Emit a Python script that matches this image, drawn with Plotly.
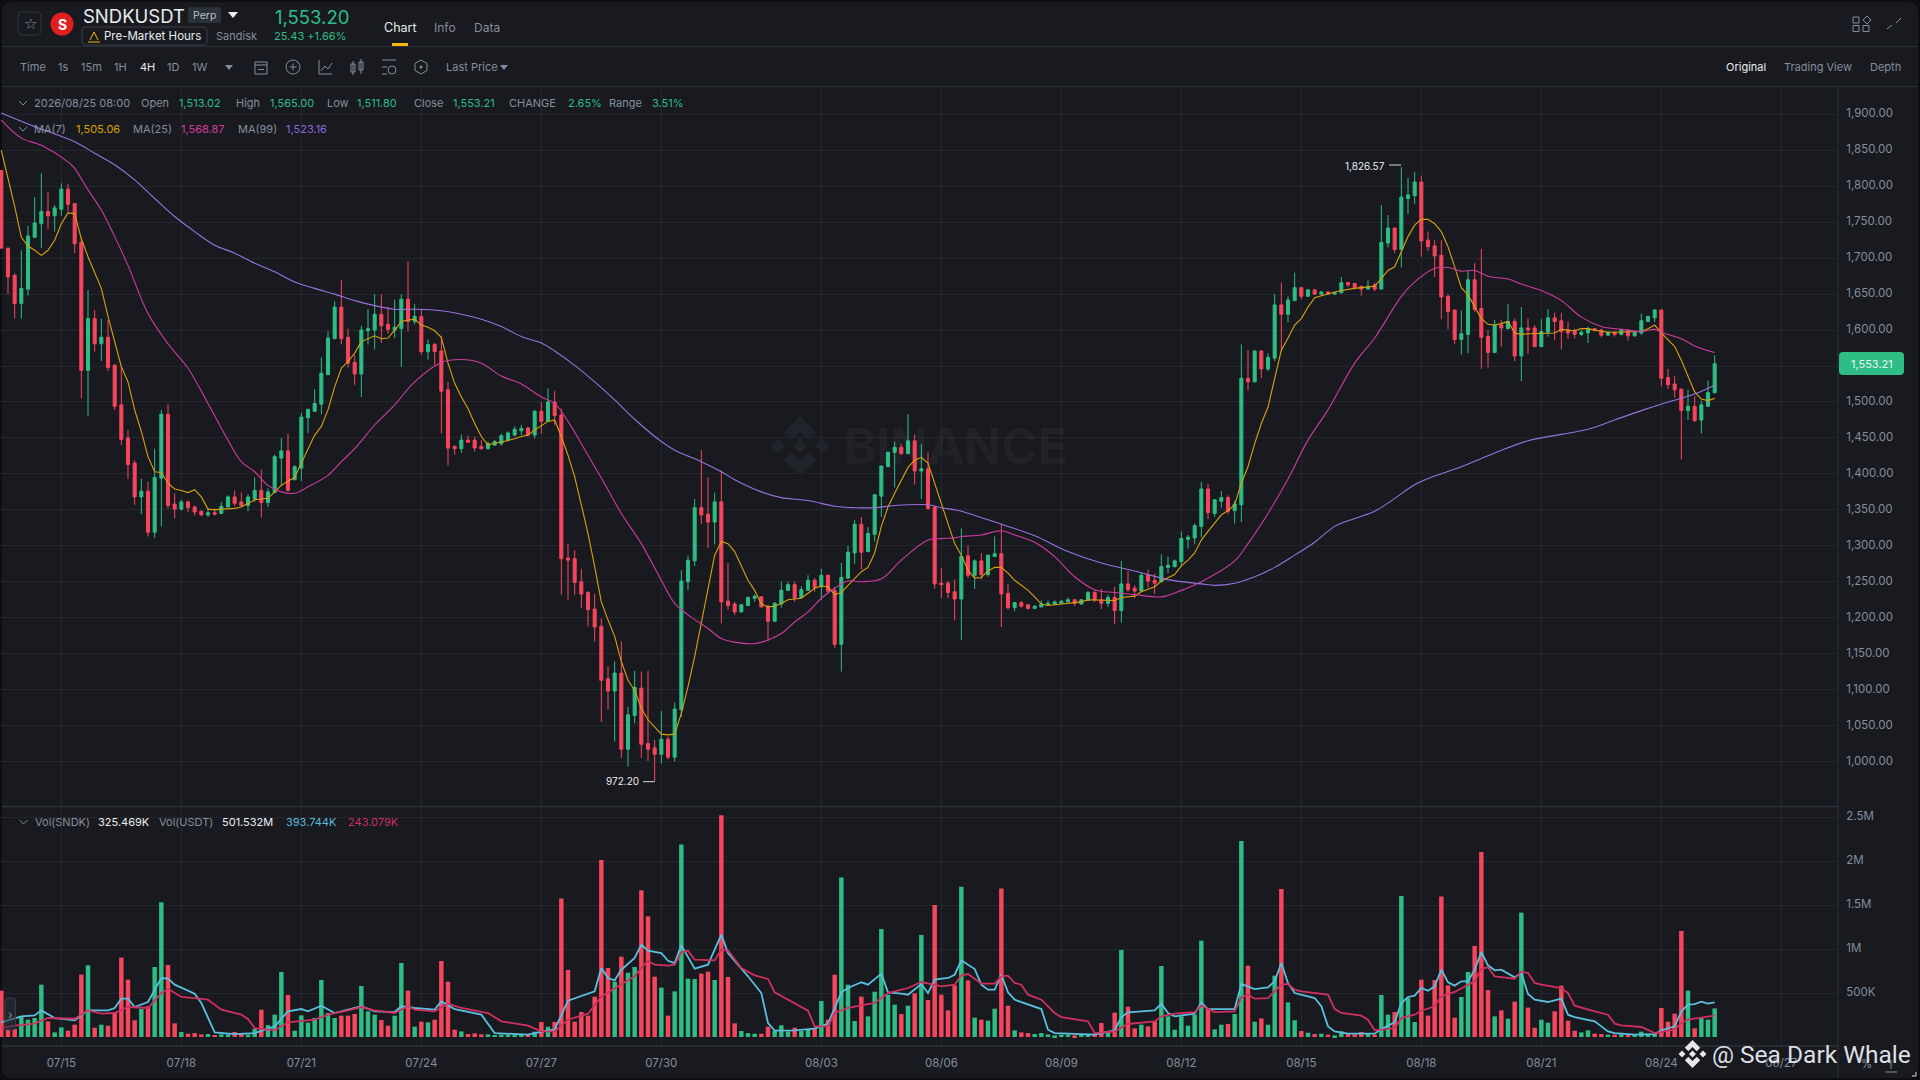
import pandas as pd
import plotly.graph_objects as go
from plotly.subplots import make_subplots

W, H = 1920, 1080
UP = "#2EBD85"
DOWN = "#F6465D"
MUTED = "#848E9C"
BRIGHT = "#EAECEF"
GRID = "#23262D"
EDGE = "#2B3139"
FONT = "Inter"

# 4h candles
dates = pd.date_range("2026-07-13 12:00", periods=258, freq="4h")

opens = [
    1822, 1714, 1676, 1637, 1657, 1729, 1748, 1765, 1759, 1768,
    1796, 1776, 1722, 1544, 1616, 1581, 1590, 1551, 1496, 1450,
    1415, 1368, 1376, 1319, 1394, 1483, 1358, 1351, 1361, 1354,
    1348, 1343, 1346, 1345, 1354, 1368, 1361, 1356, 1365, 1377,
    1360, 1374, 1422, 1432, 1392, 1408, 1478, 1487, 1497, 1538,
    1588, 1632, 1590, 1555, 1539, 1599, 1600, 1622, 1608, 1600,
    1602, 1643, 1612, 1619, 1570, 1580, 1571, 1517, 1438, 1435,
    1447, 1447, 1438, 1435, 1440, 1442, 1447, 1454, 1460, 1464,
    1454, 1487, 1473, 1500, 1482, 1283, 1282, 1250, 1235, 1212,
    1188, 1115, 1098, 1123, 1017, 1064, 1102, 1025, 1019, 1010,
    1031, 1006, 1072, 1250, 1279, 1353, 1344, 1333, 1361, 1223,
    1219, 1208, 1217, 1227, 1229, 1216, 1195, 1219, 1238, 1246,
    1228, 1238, 1252, 1243, 1259, 1238, 1163, 1255, 1290, 1330,
    1292, 1316, 1369, 1410, 1430, 1437, 1428, 1446, 1404, 1407,
    1354, 1248, 1248, 1236, 1226, 1286, 1259, 1279, 1260, 1285,
    1289, 1234, 1214, 1221, 1218, 1213, 1215, 1218, 1219, 1220,
    1222, 1225, 1219, 1224, 1235, 1225, 1220, 1228, 1210, 1247,
    1241, 1237, 1259, 1252, 1250, 1270, 1271, 1278, 1309, 1311,
    1327, 1379, 1345, 1362, 1367, 1349, 1357, 1533, 1528, 1571,
    1546, 1561, 1635, 1622, 1641, 1659, 1647, 1656, 1650, 1653,
    1650, 1652, 1666, 1665, 1661, 1657, 1663, 1657, 1721, 1742,
    1712, 1783, 1787, 1806, 1725, 1717, 1704, 1647, 1628, 1587,
    1594, 1670, 1630, 1591, 1569, 1607, 1602, 1612, 1564, 1603,
    1603, 1577, 1597, 1617, 1613, 1600, 1599, 1594, 1596, 1602,
    1600, 1593, 1597, 1594, 1600, 1592, 1596, 1612, 1617, 1628,
    1534, 1525, 1518, 1488, 1494, 1475, 1494, 1513.02,
]
highs = [
    1822, 1714, 1679, 1711, 1745, 1785, 1818, 1792, 1774, 1804,
    1803, 1776, 1730, 1656, 1628, 1616, 1614, 1553, 1549, 1461,
    1419, 1393, 1389, 1435, 1489, 1497, 1373, 1364, 1363, 1356,
    1349, 1352, 1352, 1361, 1370, 1377, 1374, 1372, 1395, 1406,
    1380, 1427, 1450, 1456, 1412, 1485, 1490, 1518, 1562, 1598,
    1640, 1670, 1602, 1565, 1606, 1629, 1650, 1650, 1632, 1642,
    1650, 1695, 1636, 1628, 1587, 1582, 1591, 1528, 1440, 1455,
    1453, 1452, 1447, 1445, 1447, 1456, 1459, 1466, 1468, 1465,
    1489, 1500, 1519, 1515, 1491, 1303, 1294, 1268, 1237, 1233,
    1199, 1132, 1139, 1167, 1076, 1126, 1125, 1126, 1030, 1070,
    1035, 1082, 1266, 1286, 1365, 1433, 1395, 1374, 1405, 1276,
    1222, 1219, 1230, 1232, 1230, 1218, 1222, 1250, 1250, 1250,
    1244, 1259, 1255, 1268, 1260, 1243, 1276, 1300, 1336, 1340,
    1326, 1372, 1411, 1431, 1445, 1442, 1483, 1455, 1442, 1430,
    1355, 1269, 1251, 1253, 1324, 1300, 1281, 1290, 1288, 1313,
    1330, 1247, 1222, 1223, 1218, 1217, 1224, 1224, 1224, 1224,
    1228, 1226, 1226, 1237, 1238, 1240, 1232, 1243, 1279, 1265,
    1245, 1262, 1267, 1261, 1288, 1285, 1281, 1320, 1315, 1331,
    1389, 1386, 1365, 1376, 1370, 1363, 1580, 1572, 1572, 1572,
    1568, 1650, 1666, 1647, 1680, 1660, 1657, 1656, 1654, 1654,
    1653, 1674, 1667, 1665, 1661, 1669, 1666, 1774, 1760, 1742,
    1826.57, 1812, 1820, 1815, 1737, 1725, 1725, 1650, 1628, 1627,
    1683, 1693, 1713, 1600, 1614, 1614, 1636, 1616, 1632, 1616,
    1607, 1615, 1629, 1624, 1624, 1612, 1602, 1600, 1605, 1603,
    1602, 1598, 1598, 1602, 1601, 1599, 1623, 1620, 1629, 1629,
    1546, 1536, 1518, 1517, 1508, 1502, 1530, 1565,
]
lows = [
    1714, 1650, 1616, 1616, 1648, 1729, 1714, 1740, 1737, 1759,
    1765, 1707, 1505, 1481, 1570, 1557, 1543, 1489, 1440, 1393,
    1357, 1344, 1313, 1311, 1327, 1352, 1338, 1349, 1347, 1342,
    1341, 1340, 1342, 1344, 1354, 1355, 1354, 1348, 1361, 1339,
    1354, 1373, 1383, 1376, 1391, 1390, 1457, 1487, 1483, 1538,
    1588, 1580, 1548, 1524, 1507, 1580, 1573, 1582, 1595, 1589,
    1549, 1598, 1608, 1565, 1559, 1551, 1456, 1412, 1427, 1429,
    1443, 1431, 1434, 1434, 1439, 1439, 1445, 1452, 1454, 1452,
    1449, 1456, 1473, 1468, 1232, 1224, 1232, 1214, 1188, 1167,
    1055, 1072, 1028, 1005, 993, 1053, 1005, 1001, 972.2, 997,
    1003, 1000, 1062, 1238, 1272, 1330, 1297, 1302, 1192, 1211,
    1204, 1208, 1217, 1222, 1214, 1168, 1195, 1214, 1237, 1222,
    1228, 1238, 1236, 1225, 1234, 1158, 1125, 1255, 1275, 1267,
    1291, 1306, 1340, 1410, 1381, 1427, 1428, 1385, 1365, 1350,
    1240, 1227, 1227, 1196, 1169, 1255, 1240, 1253, 1257, 1285,
    1187, 1211, 1209, 1214, 1211, 1212, 1215, 1217, 1218, 1220,
    1221, 1216, 1218, 1224, 1222, 1212, 1215, 1191, 1193, 1236,
    1227, 1237, 1242, 1233, 1249, 1262, 1270, 1271, 1296, 1302,
    1312, 1337, 1340, 1353, 1344, 1331, 1333, 1516, 1528, 1533,
    1543, 1557, 1570, 1611, 1641, 1643, 1646, 1649, 1649, 1649,
    1650, 1651, 1660, 1657, 1648, 1657, 1654, 1657, 1715, 1707,
    1687, 1761, 1775, 1702, 1710, 1674, 1615, 1601, 1581, 1566,
    1568, 1625, 1546, 1548, 1569, 1577, 1601, 1557, 1529, 1567,
    1577, 1577, 1591, 1586, 1573, 1588, 1588, 1592, 1582, 1598,
    1590, 1592, 1591, 1593, 1585, 1591, 1593, 1611, 1611, 1522,
    1518, 1506, 1420, 1475, 1472, 1456, 1494, 1511.8,
]
closes = [
    1714, 1674, 1637, 1658, 1731, 1749, 1765, 1759, 1770, 1796,
    1775, 1720, 1544, 1616, 1581, 1590, 1548, 1494, 1448, 1413,
    1368, 1376, 1319, 1395, 1483, 1356, 1351, 1361, 1353, 1347,
    1343, 1346, 1344, 1355, 1368, 1359, 1356, 1368, 1377, 1360,
    1375, 1424, 1432, 1377, 1410, 1479, 1490, 1498, 1540, 1589,
    1632, 1588, 1554, 1539, 1600, 1602, 1622, 1606, 1601, 1604,
    1643, 1612, 1619, 1570, 1580, 1570, 1515, 1436, 1435, 1447,
    1444, 1436, 1435, 1442, 1445, 1453, 1457, 1462, 1463, 1454,
    1487, 1473, 1500, 1481, 1282, 1280, 1249, 1233, 1211, 1187,
    1113, 1098, 1123, 1017, 1065, 1103, 1024, 1017, 1010, 1031,
    1006, 1073, 1251, 1280, 1353, 1343, 1333, 1361, 1222, 1217,
    1208, 1218, 1228, 1230, 1215, 1195, 1220, 1238, 1246, 1227,
    1239, 1252, 1242, 1259, 1237, 1163, 1256, 1291, 1330, 1291,
    1317, 1371, 1411, 1430, 1437, 1428, 1446, 1404, 1407, 1352,
    1247, 1246, 1235, 1226, 1285, 1259, 1279, 1260, 1287, 1289,
    1233, 1214, 1221, 1216, 1213, 1216, 1219, 1220, 1222, 1223,
    1225, 1220, 1225, 1235, 1225, 1220, 1228, 1210, 1247, 1239,
    1237, 1259, 1251, 1248, 1271, 1273, 1279, 1310, 1312, 1328,
    1379, 1346, 1364, 1367, 1348, 1358, 1533, 1528, 1571, 1546,
    1562, 1635, 1622, 1642, 1659, 1647, 1656, 1650, 1653, 1650,
    1652, 1666, 1663, 1659, 1657, 1661, 1657, 1722, 1742, 1712,
    1785, 1788, 1806, 1724, 1716, 1703, 1646, 1626, 1587, 1595,
    1670, 1629, 1590, 1569, 1607, 1603, 1612, 1564, 1603, 1600,
    1577, 1598, 1617, 1612, 1598, 1596, 1594, 1597, 1602, 1600,
    1593, 1597, 1594, 1600, 1592, 1597, 1613, 1619, 1628, 1533,
    1524, 1517, 1488, 1494, 1474, 1496, 1513, 1553.21,
]

ma7 = [
    1850, 1813, 1772, 1729, 1717, 1711, 1704, 1711, 1725, 1748,
    1763, 1762, 1727, 1702, 1679, 1658, 1619, 1582, 1549, 1528,
    1489, 1459, 1424, 1403, 1402, 1387, 1379, 1377, 1374, 1378,
    1368, 1351, 1350, 1351, 1351, 1352, 1354, 1359, 1364, 1365,
    1366, 1375, 1384, 1390, 1395, 1415, 1435, 1454, 1466, 1489,
    1521, 1547, 1556, 1568, 1584, 1588, 1592, 1588, 1589, 1600,
    1612, 1614, 1615, 1607, 1604, 1599, 1590, 1554, 1526, 1507,
    1491, 1470, 1452, 1440, 1443, 1444, 1446, 1449, 1452, 1454,
    1461, 1467, 1473, 1475, 1452, 1426, 1396, 1357, 1317, 1271,
    1222, 1197, 1174, 1139, 1113, 1099, 1074, 1058, 1048, 1038,
    1037, 1038, 1067, 1104, 1146, 1194, 1243, 1287, 1306, 1303,
    1292, 1271, 1252, 1238, 1219, 1215, 1216, 1220, 1225, 1226,
    1227, 1234, 1241, 1244, 1243, 1232, 1235, 1245, 1255, 1264,
    1270, 1290, 1327, 1354, 1373, 1392, 1409, 1419, 1423, 1415,
    1387, 1359, 1331, 1303, 1287, 1266, 1255, 1256, 1265, 1270,
    1270, 1262, 1252, 1245, 1238, 1229, 1219, 1217, 1218, 1218,
    1219, 1221, 1222, 1225, 1225, 1225, 1225, 1224, 1228, 1229,
    1230, 1236, 1240, 1243, 1251, 1255, 1260, 1272, 1280, 1290,
    1308, 1320, 1332, 1343, 1349, 1357, 1387, 1410, 1442, 1470,
    1493, 1531, 1572, 1589, 1607, 1616, 1632, 1645, 1648, 1651,
    1653, 1655, 1657, 1658, 1659, 1660, 1661, 1672, 1683, 1688,
    1709, 1730, 1746, 1754, 1754, 1748, 1737, 1716, 1688, 1659,
    1649, 1633, 1616, 1608, 1607, 1609, 1612, 1596, 1594, 1595,
    1595, 1596, 1596, 1596, 1601, 1600, 1599, 1602, 1602, 1600,
    1598, 1597, 1597, 1597, 1597, 1597, 1598, 1602, 1607, 1596,
    1586, 1577, 1558, 1535, 1514, 1504, 1502, 1505.06,
]

# slower averages, read at every few candles
ma25_at = [
    0, 3, 6, 10, 11, 13, 15, 17, 19, 22, 25, 28, 31, 34, 36, 38, 40, 42, 44, 46,
    49, 51, 53, 56, 59, 62, 66, 69, 72, 75, 78, 81, 83, 85, 87, 89, 91, 93, 96, 99,
    101, 103, 106, 108, 110, 113, 115, 117, 119, 121, 123, 125, 127, 129, 132, 135, 139, 141, 143, 144,
    147, 150, 152, 155, 158, 161, 164, 167, 170, 174, 177, 180, 185, 187, 190, 193, 196, 199, 203, 206,
    210, 212, 215, 217, 219, 221, 223, 226, 228, 231, 234, 237, 240, 243, 246, 248, 249, 252, 254, 257,
]
ma25 = [
    1892, 1867, 1857, 1834, 1825, 1795, 1767, 1730, 1690, 1623, 1581, 1547, 1498, 1447, 1417, 1403, 1384, 1375, 1373, 1382,
    1398, 1417, 1435, 1468, 1496, 1528, 1555, 1559, 1554, 1536, 1525, 1507, 1498, 1473, 1442, 1410, 1378, 1345, 1303, 1252,
    1220, 1204, 1185, 1171, 1166, 1164, 1169, 1178, 1194, 1208, 1227, 1241, 1251, 1250, 1254, 1280, 1308, 1310, 1311, 1313,
    1315, 1321, 1315, 1305, 1285, 1257, 1239, 1235, 1232, 1229, 1238, 1250, 1279, 1303, 1345, 1393, 1447, 1489, 1554, 1589,
    1647, 1667, 1686, 1687, 1682, 1683, 1675, 1671, 1664, 1655, 1641, 1618, 1605, 1601, 1598, 1601, 1597, 1588, 1578, 1568.87,
]
ma99_at = [
    0, 5, 11, 14, 17, 20, 23, 26, 29, 32, 35, 38, 41, 44, 47, 50, 53, 56, 59, 62,
    66, 69, 72, 75, 78, 81, 83, 86, 89, 92, 95, 99, 101, 105, 108, 110, 114, 117, 121, 125,
    128, 131, 134, 139, 141, 143, 144, 150, 155, 160, 165, 170, 175, 180, 182, 185, 188, 191, 194, 197,
    200, 203, 206, 209, 212, 215, 219, 224, 229, 234, 238, 242, 246, 250, 254, 257,
]
ma99 = [
    1902, 1883, 1862, 1846, 1830, 1809, 1783, 1758, 1737, 1718, 1707, 1693, 1681, 1667, 1658, 1650, 1641, 1634, 1629, 1629,
    1627, 1622, 1615, 1605, 1591, 1582, 1571, 1551, 1528, 1503, 1476, 1445, 1433, 1417, 1403, 1392, 1375, 1367, 1363, 1355,
    1353, 1353, 1356, 1357, 1353, 1350, 1348, 1330, 1314, 1292, 1276, 1265, 1253, 1247, 1245, 1248, 1257, 1270, 1287, 1305,
    1327, 1338, 1348, 1366, 1385, 1397, 1410, 1429, 1446, 1455, 1462, 1475, 1488, 1500, 1511, 1523.16,
]

# volume in thousands of SNDK
volume = [
    527, 83, 91, 235, 197, 216, 595, 178, 53, 110,
    72, 140, 709, 815, 106, 140, 129, 284, 902, 652,
    190, 318, 349, 796, 1531, 819, 155, 57, 38, 45,
    30, 34, 23, 30, 30, 57, 34, 27, 91, 311,
    136, 254, 739, 478, 72, 246, 163, 216, 648, 273,
    216, 243, 243, 262, 580, 292, 254, 193, 129, 243,
    841, 527, 117, 174, 167, 197, 864, 629, 83, 64,
    34, 42, 30, 30, 23, 27, 27, 27, 27, 23,
    61, 171, 117, 171, 1573, 762, 174, 284, 243, 459,
    2012, 785, 629, 913, 731, 796, 1668, 1372, 686, 561,
    243, 519, 2187, 663, 659, 720, 743, 648, 2520, 682,
    155, 68, 45, 38, 38, 117, 72, 133, 64, 106,
    68, 80, 106, 409, 197, 709, 1812, 595, 182, 459,
    235, 515, 1228, 481, 368, 262, 356, 497, 1160, 421,
    1501, 481, 303, 587, 1709, 644, 220, 197, 186, 322,
    1687, 356, 76, 53, 45, 34, 45, 30, 19, 27,
    27, 19, 23, 23, 23, 159, 64, 277, 989, 345,
    99, 140, 121, 178, 807, 235, 83, 235, 129, 254,
    1095, 318, 87, 140, 148, 262, 2228, 811, 174, 212,
    140, 697, 1683, 394, 190, 68, 49, 34, 38, 27,
    19, 64, 34, 30, 57, 34, 27, 478, 254, 284,
    1603, 443, 171, 652, 243, 648, 1596, 587, 220, 455,
    739, 1035, 2103, 534, 235, 303, 208, 402, 1414, 334,
    106, 197, 163, 292, 584, 186, 72, 53, 76, 38,
    34, 27, 27, 30, 27, 27, 61, 38, 34, 330,
    174, 265, 1205, 527, 99, 216, 197, 325.469,
]
vol_ma5_at = [
    0, 3, 5, 6, 8, 11, 13, 16, 17, 18, 19, 20, 22, 24, 25, 26, 29, 30, 32, 35,
    38, 41, 43, 45, 46, 48, 50, 54, 56, 59, 60, 62, 65, 66, 68, 72, 74, 79, 82, 83,
    85, 87, 89, 90, 91, 92, 93, 95, 96, 97, 99, 100, 101, 102, 104, 106, 108, 109, 112, 114,
    115, 116, 119, 122, 124, 126, 127, 129, 130, 132, 133, 135, 136, 138, 139, 140, 142, 143, 144, 146,
    147, 148, 149, 150, 151, 152, 156, 157, 158, 164, 167, 168, 169, 173, 174, 175, 176, 179, 180, 181,
    185, 186, 188, 190, 191, 192, 193, 194, 197, 198, 199, 200, 202, 206, 207, 209, 210, 211, 212, 213,
    214, 215, 216, 217, 218, 219, 220, 221, 222, 223, 224, 225, 227, 228, 229, 230, 232, 234, 235, 236,
    239, 240, 241, 242, 245, 248, 249, 251, 252, 253, 254, 255, 256, 257,
]
vol_ma5 = [
    167, 235, 246, 303, 216, 190, 303, 303, 330, 436, 436, 341, 398, 671, 663, 595, 493, 387, 53, 34,
    45, 121, 292, 318, 292, 356, 273, 349, 292, 284, 349, 330, 311, 405, 318, 254, 45, 27, 76, 83,
    413, 462, 519, 784, 671, 644, 765, 898, 1050, 982, 955, 867, 841, 1042, 777, 822, 1164, 955, 690, 500,
    159, 72, 76, 95, 152, 508, 557, 622, 595, 720, 508, 493, 481, 602, 500, 652, 671, 708, 872, 773,
    595, 538, 538, 708, 508, 424, 318, 83, 45, 27, 76, 227, 280, 303, 379, 273, 235, 265, 394, 318,
    318, 603, 545, 564, 633, 841, 614, 500, 443, 349, 121, 64, 38, 38, 91, 167, 387, 455, 470, 557,
    527, 576, 766, 622, 584, 633, 633, 766, 966, 815, 758, 766, 678, 728, 489, 424, 398, 436, 254, 227,
    178, 121, 64, 45, 27, 34, 76, 121, 292, 368, 375, 402, 379, 393.744,
]
vol_ma10_at = [
    0, 2, 5, 7, 11, 13, 15, 17, 19, 22, 24, 25, 27, 31, 33, 36, 37, 38, 41, 43,
    47, 49, 52, 54, 56, 59, 61, 62, 65, 67, 69, 73, 75, 79, 81, 83, 85, 88, 90, 93,
    95, 96, 97, 98, 100, 101, 102, 103, 104, 107, 108, 109, 111, 113, 115, 116, 121, 122, 124, 125,
    127, 131, 133, 136, 138, 141, 143, 144, 145, 147, 149, 150, 151, 152, 153, 154, 156, 158, 159, 163,
    164, 167, 169, 173, 174, 176, 179, 180, 182, 185, 186, 187, 188, 190, 192, 193, 194, 195, 199, 200,
    201, 204, 205, 206, 209, 210, 212, 213, 215, 216, 218, 221, 222, 223, 224, 227, 228, 229, 230, 231,
    234, 235, 236, 239, 241, 242, 243, 246, 247, 248, 251, 252, 253, 257,
]
vol_ma10 = [
    102, 129, 152, 216, 208, 303, 265, 273, 341, 330, 500, 549, 455, 424, 311, 254, 205, 102, 76, 167,
    197, 254, 303, 341, 303, 273, 349, 311, 292, 379, 330, 273, 178, 129, 64, 64, 197, 265, 462, 595,
    690, 785, 864, 822, 811, 822, 963, 982, 879, 872, 993, 985, 785, 701, 660, 508, 299, 121, 121, 273,
    330, 387, 500, 557, 625, 576, 595, 701, 716, 606, 606, 690, 697, 614, 595, 481, 424, 273, 227, 178,
    45, 64, 148, 178, 235, 265, 284, 356, 284, 292, 451, 481, 436, 443, 595, 603, 538, 519, 481, 318,
    273, 243, 197, 76, 102, 216, 254, 299, 349, 462, 512, 633, 777, 792, 690, 663, 743, 728, 614, 595,
    557, 500, 356, 292, 254, 152, 133, 114, 83, 45, 83, 159, 197, 243.079,
]

price_ticks = list(range(1000, 1901, 50))
# the last-price tag sits where the 1,550.00 label would be
price_tick_labels = ["" if v == 1550 else f"{v:,.2f}" for v in price_ticks]
vol_ticks = [500, 1000, 1500, 2000, 2500]
vol_tick_labels = ["500K", "1M", "1.5M", "2M", "2.5M"]
date_ticks = [
    "2026-07-15", "2026-07-18", "2026-07-21", "2026-07-24", "2026-07-27", "2026-07-30", "2026-08-03",
    "2026-08-06", "2026-08-09", "2026-08-12", "2026-08-15", "2026-08-18", "2026-08-21", "2026-08-24", "2026-08-27",
]
date_labels = [d[5:].replace("-", "/") for d in date_ticks]


def px(x):
    return x / W


def py(y):
    return 1 - y / H


def picks(idx):
    return [dates[i] for i in idx]


shapes = []
notes = []


def label(x, y, text, size=11, color=MUTED, anchor="left", family=FONT, **kw):
    notes.append(dict(x=px(x), y=py(y), xref="paper", yref="paper", text=text, showarrow=False,
                      xanchor=anchor, yanchor="middle", borderpad=0,
                      font=dict(size=size, color=color, family=family), **kw))


def rect(x0, y0, x1, y1, fill=None, line=None, width=1, layer="above"):
    shapes.append(dict(type="rect", xref="paper", yref="paper", x0=px(x0), x1=px(x1), y0=py(y0), y1=py(y1),
                       fillcolor=fill or "rgba(0,0,0,0)", layer=layer,
                       line=dict(color=line or "rgba(0,0,0,0)", width=width if line else 0)))


def seg(x0, y0, x1, y1, color=MUTED, width=1, layer="above"):
    shapes.append(dict(type="line", xref="paper", yref="paper", x0=px(x0), x1=px(x1), y0=py(y0), y1=py(y1),
                       layer=layer, line=dict(color=color, width=width)))


def circle(cx, cy, r, fill=None, line=None, width=1):
    shapes.append(dict(type="circle", xref="paper", yref="paper", x0=px(cx - r), x1=px(cx + r), y0=py(cy - r),
                       y1=py(cy + r), fillcolor=fill or "rgba(0,0,0,0)",
                       line=dict(color=line or "rgba(0,0,0,0)", width=width if line else 0)))


def poly(points, fill=None, line=None, width=1, close=True, layer="above"):
    d = "M" + " L".join(f"{px(a):.5f},{py(b):.5f}" for a, b in points) + (" Z" if close else "")
    shapes.append(dict(type="path", xref="paper", yref="paper", path=d, layer=layer,
                       fillcolor=fill or "rgba(0,0,0,0)",
                       line=dict(color=line or "rgba(0,0,0,0)", width=width if line else 0)))


def round_rect(x0, y0, x1, y1, r, fill=None, line=None, width=1, layer="above"):
    d = (f"M{px(x0 + r):.5f},{py(y0):.5f} L{px(x1 - r):.5f},{py(y0):.5f} "
         f"Q{px(x1):.5f},{py(y0):.5f} {px(x1):.5f},{py(y0 + r):.5f} L{px(x1):.5f},{py(y1 - r):.5f} "
         f"Q{px(x1):.5f},{py(y1):.5f} {px(x1 - r):.5f},{py(y1):.5f} L{px(x0 + r):.5f},{py(y1):.5f} "
         f"Q{px(x0):.5f},{py(y1):.5f} {px(x0):.5f},{py(y1 - r):.5f} L{px(x0):.5f},{py(y0 + r):.5f} "
         f"Q{px(x0):.5f},{py(y0):.5f} {px(x0 + r):.5f},{py(y0):.5f} Z")
    shapes.append(dict(type="path", xref="paper", yref="paper", path=d, layer=layer,
                       fillcolor=fill or "rgba(0,0,0,0)",
                       line=dict(color=line or "rgba(0,0,0,0)", width=width if line else 0)))


def binance_logo(cx, cy, r, fill, layer="above"):
    def unit(pts):
        poly([(cx + a * r, cy + b * r) for a, b in pts], fill=fill, layer=layer)
    unit([(0, -.25), (.25, 0), (0, .25), (-.25, 0)])
    unit([(-.75, -.25), (-.5, 0), (-.75, .25), (-1, 0)])
    unit([(.75, -.25), (1, 0), (.75, .25), (.5, 0)])
    unit([(0, -1), (.55, -.45), (.3, -.2), (0, -.5), (-.3, -.2), (-.55, -.45)])
    unit([(0, 1), (.55, .45), (.3, .2), (0, .5), (-.3, .2), (-.55, .45)])


def chevron(x, y):
    poly([(x - 4, y - 2), (x, y + 2), (x + 4, y - 2)], line=MUTED, close=False)


# panel and separators
round_rect(2, 2, 1918, 1078, 10, fill="#181A20", layer="below")
seg(2, 46.5, 1918, 46.5, EDGE, layer="below")
seg(2, 86.5, 1918, 86.5, EDGE, layer="below")
seg(2, 806.5, 1838, 806.5, EDGE, 1.5, layer="below")
seg(2, 1046, 1838, 1046, EDGE, 1.5, layer="below")
seg(1838, 86.5, 1838, 1078, EDGE, layer="below")
binance_logo(800, 446, 29.5, "#202329", layer="below")
label(843, 447, "<b>BINANCE</b>", 49, "rgba(255,255,255,0.035)")

# header
round_rect(18, 12, 41, 35, 5, line="#333842")
label(30, 24, "☆", 15, MUTED, "center", family="DejaVu Sans")
circle(62, 24, 11.5, fill="#E02020")
label(62, 24, "<b>S</b>", 14, "#FFFFFF", "center")
label(82, 16, "SNDKUSDT", 18.5, BRIGHT)
round_rect(188, 7, 221, 23, 2, fill="#2B3139")
label(192, 15.5, "Perp", 10.5, "#B7BDC6")
poly([(228, 12), (238, 12), (233, 18)], fill=BRIGHT)
label(274, 17, "1,553.20", 18.5, UP)
label(273, 36, "25.43 +1.66%", 11, UP)
round_rect(82, 27, 207, 45, 4, line="#3A3F48")
poly([(88, 42), (100, 42)], line="#F0B90B", close=False)
poly([(90, 40), (94, 32), (98, 40)], line="#F0B90B", close=False)
label(103, 36, "Pre-Market Hours", 11.5, BRIGHT)
label(215, 36, "Sandisk", 11, MUTED)
label(383, 27, "Chart", 12.5, BRIGHT)
label(433, 27, "Info", 12, MUTED)
label(473, 27, "Data", 12, MUTED)
rect(392, 43, 408, 46, fill="#F0B90B")

# toolbar
for x, text in [(19, "Time"), (57, "1s"), (79.5, "15m"), (113, "1H"), (166, "1D"), (190.5, "1W"), (445, "Last Price")]:
    label(x, 67, text)
label(139, 67, "4H", 11, BRIGHT)
poly([(225, 65), (233, 65), (229, 70)], fill=MUTED)
poly([(500, 65), (508, 65), (504, 70)], fill=MUTED)
rect(255, 62, 267, 74, line=MUTED)
seg(255, 65, 267, 65)
seg(258, 69.5, 264, 69.5)
circle(293, 67, 7, line=MUTED)
seg(289.5, 67, 296.5, 67)
seg(293, 63.5, 293, 70.5)
poly([(319, 60), (319, 74), (332, 74)], line=MUTED, close=False)
poly([(321, 71), (325, 66), (328, 69), (332, 63)], line=MUTED, close=False)
rect(351, 64, 355, 72, line=MUTED)
rect(359, 62, 363, 70, line=MUTED)
seg(353, 61, 353, 75)
seg(361, 59, 361, 74)
seg(382, 60, 396, 60)
seg(382, 67, 387, 67)
seg(382, 74, 387, 74)
circle(392, 70, 4, line=MUTED)
poly([(421, 60), (427, 63.5), (427, 70.5), (421, 74), (415, 70.5), (415, 63.5)], line=MUTED)
circle(421, 67, 1.5, fill=MUTED)
label(1725, 67, "Original", 11, BRIGHT)
label(1783, 67, "Trading View")
label(1869, 67, "Depth")
for a, b in [(1853, 17), (1853, 25.5)]:
    rect(a, b, a + 6, b + 6, line=MUTED)
poly([(1867, 16), (1871, 20), (1867, 24), (1863, 20)], line=MUTED)
rect(1863, 25.5, 1869, 31.5, line=MUTED)
seg(1887, 29, 1892, 25)
seg(1896, 23, 1901, 18)

# readout rows
chevron(23, 103)
label(33, 103, "2026/08/25 08:00")
for x, text, color in [(139.5, "Open", MUTED), (178, "1,513.02", UP), (234.5, "High", MUTED), (269, "1,565.00", UP),
                       (326, "Low", MUTED), (356, "1,511.80", UP), (412.5, "Close", MUTED), (452, "1,553.21", UP),
                       (508, "CHANGE", MUTED), (566.5, "2.65%", UP), (608, "Range", MUTED), (650.5, "3.51%", UP)]:
    label(x, 103, text, 11, color)
chevron(23, 129)
for x, text, color in [(33, "MA(7)", MUTED), (75, "1,505.06", "#D9A20C"), (132, "MA(25)", MUTED),
                       (180, "1,568.87", "#D23C9E"), (236.5, "MA(99)", MUTED), (285, "1,523.16", "#9068D8")]:
    label(x, 129, text, 11, color)
chevron(23.5, 822)
for x, text, color in [(33.5, "Vol(SNDK)", MUTED), (97, "325.469K", BRIGHT), (158, "Vol(USDT)", MUTED),
                       (221, "501.532M", BRIGHT), (285, "393.744K", "#5BB8D4"), (346.5, "243.079K", "#C8305F")]:
    label(x, 822, text, 11, color)

# collapse handle, price tag, footer marks
round_rect(5, 998, 15.5, 1030, 3, fill="rgba(43,49,57,0.55)", line="#3A3F48")
label(10.2, 1014, "›", 12, MUTED, "center")
round_rect(1839, 352, 1904, 375, 4, fill=UP)
label(1871.5, 363.5, "1,553.21", 11, "#EAF7F1", "center")
label(1866, 1064, "%", 11.5, MUTED, "center")
seg(1885, 1072, 1897, 1072)
seg(1891, 1060, 1891, 1069)
poly([(1912, 1076), (1916, 1076), (1916, 1072)], line="#D8DADD", close=False)
binance_logo(1692.5, 1054, 14, "#E6E8EA")
label(1711, 1054, "@ Sea Dark Whale", 24.5, "#DDDFE2", family="Roboto")

# extreme markers on the candles
hi_i, lo_i = highs.index(max(highs)), lows.index(min(lows))
seg(1389, 165, 1401, 165, "#D8DADD")
seg(643, 781.7, 654.7, 781.7, "#D8DADD")
notes.append(dict(x=dates[hi_i], y=max(highs), xref="x", yref="y", text=f"{max(highs):,.2f}", showarrow=False,
                  xanchor="right", yanchor="middle", xshift=-14, yshift=1.5,
                  font=dict(size=10, color=BRIGHT, family=FONT)))
notes.append(dict(x=dates[lo_i], y=min(lows), xref="x", yref="y", text=f"{min(lows):,.2f}", showarrow=False,
                  xanchor="right", yanchor="middle", xshift=-14, font=dict(size=10, color=BRIGHT, family=FONT)))

fig = make_subplots(rows=2, cols=1, shared_xaxes=True, vertical_spacing=0)

fig.add_trace(go.Candlestick(
    x=dates, open=opens, high=highs, low=lows, close=closes, whiskerwidth=0,
    increasing=dict(line=dict(color=UP, width=1), fillcolor=UP),
    decreasing=dict(line=dict(color=DOWN, width=1), fillcolor=DOWN),
), row=1, col=1)
fig.add_trace(go.Scatter(x=dates, y=ma7, mode="lines", line=dict(color="#D9A20C", width=1.1)), row=1, col=1)
fig.add_trace(go.Scatter(x=picks(ma25_at), y=ma25, mode="lines",
                         line=dict(color="#CF3B9F", width=1.1, shape="spline")), row=1, col=1)
fig.add_trace(go.Scatter(x=picks(ma99_at), y=ma99, mode="lines",
                         line=dict(color="#9A72DE", width=1.1, shape="spline")), row=1, col=1)

bar_colors = [UP if c >= o else DOWN for o, c in zip(opens, closes)]
fig.add_trace(go.Bar(x=dates, y=volume, marker=dict(color=bar_colors, line_width=0), width=9.6e6), row=2, col=1)
fig.add_trace(go.Scatter(x=picks(vol_ma5_at), y=vol_ma5, mode="lines", line=dict(color="#5BC0DE", width=1.8)),
              row=2, col=1)
fig.add_trace(go.Scatter(x=picks(vol_ma10_at), y=vol_ma10, mode="lines", line=dict(color="#D0305F", width=1.8)),
              row=2, col=1)

fig.update_layout(
    width=W, height=H, margin=dict(l=0, r=0, t=0, b=0), showlegend=False,
    paper_bgcolor="#0C0E12", plot_bgcolor="rgba(0,0,0,0)", boxgap=0.35,
    font=dict(family=FONT, color=MUTED, size=11),
    shapes=shapes, annotations=notes, hovermode=False,
)
x_common = dict(range=["2026-07-13 11:12", "2026-08-28 10:00"], domain=[0, 1838 / W], tickvals=date_ticks,
                ticktext=date_labels, gridcolor=GRID, gridwidth=1, zeroline=False, showline=False)
fig.update_xaxes(row=1, col=1, showticklabels=False, rangeslider_visible=False, **x_common)
fig.update_xaxes(row=2, col=1, ticks="outside", ticklen=6, tickcolor="rgba(0,0,0,0)",
                 tickfont=dict(size=11.5, color=MUTED), **x_common)
fig.update_yaxes(row=1, col=1, side="right", domain=[1 - 806 / H, 1 - 87 / H], range=[938.1, 1938.1],
                 tickvals=price_ticks, ticktext=price_tick_labels, ticks="outside", ticklen=5,
                 tickcolor="rgba(0,0,0,0)", gridcolor=GRID, gridwidth=1, zeroline=False, showline=False,
                 ticklabelshift=-1, tickfont=dict(size=11.5, color=MUTED))
fig.update_yaxes(row=2, col=1, side="right", domain=[1 - 1046 / H, 1 - 807 / H], range=[-102, 2614],
                 tickvals=vol_ticks, ticktext=vol_tick_labels, ticks="outside", ticklen=5,
                 tickcolor="rgba(0,0,0,0)", gridcolor=GRID, gridwidth=1, zeroline=False, showline=False,
                 ticklabelshift=-1, tickfont=dict(size=11.5, color=MUTED))

fig.write_html("out.html", config={"displayModeBar": False},
               post_script="document.body.style.margin='0';document.body.style.background='#0C0E12';")
